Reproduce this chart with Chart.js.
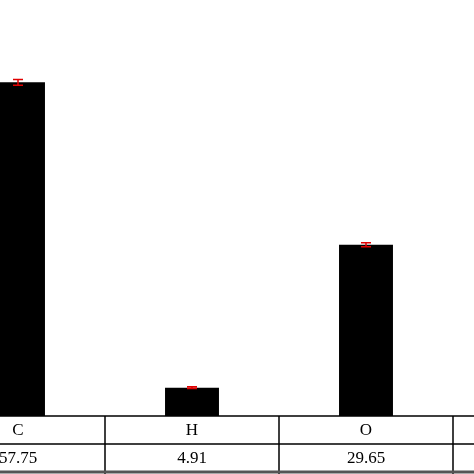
<!DOCTYPE html>
<html><head><meta charset="utf-8">
<script src="https://cdn.jsdelivr.net/npm/chart.js@4"></script>
<style>html,body{margin:0;padding:0;background:#fff;overflow:hidden;width:474px;height:474px}
#wrap{position:absolute;left:-69px;top:0;width:800px;height:474px}</style>
</head><body><div id="wrap"><canvas id="c"></canvas></div>
<script>
const categories = ['C','H','O','N'];
const values = [57.75, 4.91, 29.65, 1.2];
const errors = [0.5, 0.15, 0.35, 0.1];
const labels = ['57.75','4.91','29.65','1.20'];

const extras = {
  id:'extras',
  afterDatasetsDraw(chart){
    const ctx = chart.ctx, x = chart.scales.x, y = chart.scales.y, ca = chart.chartArea;
    ctx.save();
    // error bars
    ctx.strokeStyle = '#e00000'; ctx.lineWidth = 1.5;
    values.forEach((v,i)=>{
      const px = x.getPixelForValue(i), t = y.getPixelForValue(v+errors[i]), b = y.getPixelForValue(v-errors[i]);
      ctx.beginPath();
      ctx.moveTo(px,t); ctx.lineTo(px,b);
      ctx.moveTo(px-5,t); ctx.lineTo(px+5,t);
      ctx.moveTo(px-5,b); ctx.lineTo(px+5,b);
      ctx.stroke();
    });
    // table
    const top = ca.bottom, mid = top+28, bot = top+55;
    const step = x.getPixelForValue(1)-x.getPixelForValue(0);
    ctx.strokeStyle = '#000'; ctx.lineWidth = 1.5;
    ctx.beginPath();
    ctx.moveTo(0,top); ctx.lineTo(chart.width,top);
    ctx.moveTo(0,mid); ctx.lineTo(chart.width,mid);
    categories.forEach((c,i)=>{
      const ex = x.getPixelForValue(i)+step/2;
      ctx.moveTo(ex,top); ctx.lineTo(ex,bot+3);
    });
    ctx.stroke();
    ctx.strokeStyle = '#555'; ctx.lineWidth = 3;
    ctx.beginPath(); ctx.moveTo(0,bot+1); ctx.lineTo(chart.width,bot+1); ctx.stroke();
    ctx.fillStyle = '#000'; ctx.font = '17px "Liberation Serif"';
    ctx.textAlign = 'center'; ctx.textBaseline = 'middle';
    categories.forEach((c,i)=>{
      const px = x.getPixelForValue(i);
      ctx.fillText(c, px, top+15);
      ctx.fillText(labels[i], px, mid+15);
    });
    ctx.restore();
  }
};

new Chart(document.getElementById('c'), {
  type:'bar',
  data:{labels:categories, datasets:[{data:values, backgroundColor:'#000', barPercentage:0.31, categoryPercentage:1}]},
  options:{
    responsive:true, maintainAspectRatio:false, animation:false,
    layout:{padding:{left:0,right:104,top:0,bottom:58}},
    plugins:{legend:{display:false}, tooltip:{enabled:false}},
    scales:{x:{display:false}, y:{display:false, min:0, max:72}}
  },
  plugins:[extras]
});
</script></body></html>
